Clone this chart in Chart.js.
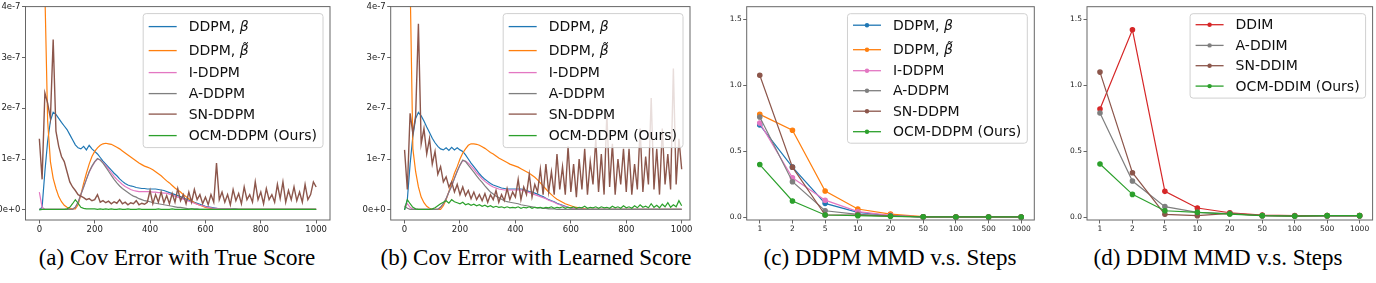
<!DOCTYPE html>
<html>
<head>
<meta charset="utf-8">
<script src="https://cdn.jsdelivr.net/npm/chart.js@4.4.0/dist/chart.umd.min.js"></script>
<style>
  body { margin: 0; width: 1376px; height: 283px; background: #fff; position: relative; overflow: hidden; }
  canvas { position: absolute; top: 0; }
  .cap { position: absolute; top: 244px; font-family: "Liberation Serif", serif; font-size: 23px; line-height: 28px; white-space: nowrap; transform: translateX(-50%); color: #000; }
</style>
</head>
<body>
<canvas id="covTrue" width="340" height="240" style="left:0px"></canvas>
<canvas id="covLearned" width="350" height="240" style="left:350px"></canvas>
<canvas id="mmdDdpm" width="340" height="240" style="left:700px"></canvas>
<canvas id="mmdDdim" width="336" height="240" style="left:1040px"></canvas>
<div class="cap" style="left:177px">(a) Cov Error with True Score</div>
<div class="cap" style="left:536px">(b) Cov Error with Learned Score</div>
<div class="cap" style="left:890px">(c) DDPM MMD v.s. Steps</div>
<div class="cap" style="left:1218px">(d) DDIM MMD v.s. Steps</div>
<script>
// ---- data: covariance error (values in units of 1e-7) ----
const covSteps = [
  0, 10, 20, 30, 40, 50, 60, 70, 80, 90,
  100, 110, 120, 130, 140, 150, 160, 170, 180, 190,
  200, 210, 220, 230, 240, 250, 260, 270, 280, 290,
  300, 310, 320, 330, 340, 350, 360, 370, 380, 390,
  400, 410, 420, 430, 440, 450, 460, 470, 480, 490,
  500, 510, 520, 530, 540, 550, 560, 570, 580, 590,
  600, 610, 620, 630, 640, 650, 660, 670, 680, 690,
  700, 710, 720, 730, 740, 750, 760, 770, 780, 790,
  800, 810, 820, 830, 840, 850, 860, 870, 880, 890,
  900, 910, 920, 930, 940, 950, 960, 970, 980, 990,
  1000,
];
const covXTicks = [0, 200, 400, 600, 800, 1000];
const covYTicks = [0, 1, 2, 3, 4];

// (a) true score
const trueBeta = [
  0, 0.05, 0.75, 1.35, 1.75, 1.92, 1.88, 1.8, 1.72, 1.65,
  1.58, 1.48, 1.38, 1.28, 1.22, 1.2, 1.25, 1.18, 1.27, 1.2,
  1.15, 1.1, 1.03, 0.96, 0.9, 0.84, 0.78, 0.72, 0.67, 0.61,
  0.56, 0.52, 0.49, 0.47, 0.46, 0.44, 0.43, 0.42, 0.42, 0.41,
  0.41, 0.41, 0.41, 0.4, 0.39, 0.38, 0.36, 0.34, 0.32, 0.3,
  0.28, 0.26, 0.23, 0.21, 0.19, 0.17, 0.15, 0.13, 0.11, 0.09,
  0.07, 0.06, 0.05, 0.04, 0.03, 0.02, 0.02, 0.02, 0.02, 0.02,
  0.02, 0.02, 0.01, 0.01, 0.01, 0.01, 0.01, 0.01, 0.01, 0.01,
  0.01, 0.01, 0.01, 0.01, 0.01, 0.01, 0.01, 0.01, 0.01, 0.01,
  0.01, 0.01, 0.01, 0.01, 0.01, 0.01, 0.01, 0.01, 0.01, 0.01,
  0.01,
];
const trueBetaTilde = [
  9, 7, 4.3, 1.75, 0.95, 0.62, 0.42, 0.26, 0.16, 0.09,
  0.05, 0.03, 0.02, 0.02, 0.1, 0.3, 0.52, 0.72, 0.9, 1.05,
  1.15, 1.22, 1.27, 1.3, 1.31, 1.3, 1.29, 1.26, 1.23, 1.2,
  1.16, 1.12, 1.08, 1.04, 1.0, 0.96, 0.92, 0.89, 0.86, 0.84,
  0.82, 0.79, 0.75, 0.71, 0.67, 0.62, 0.57, 0.53, 0.48, 0.43,
  0.39, 0.35, 0.3, 0.26, 0.22, 0.18, 0.14, 0.11, 0.09, 0.07,
  0.05, 0.04, 0.03, 0.02, 0.02, 0.01, 0.01, 0.01, 0.01, 0.01,
  0.01, 0.01, 0.01, 0.01, 0.01, 0.01, 0.01, 0.01, 0.01, 0.01,
  0.01, 0.01, 0.01, 0.01, 0.01, 0.01, 0.01, 0.01, 0.01, 0.01,
  0.01, 0.01, 0.01, 0.01, 0.01, 0.01, 0.01, 0.01, 0.01, 0.01,
  0.01,
];
const trueIddpm = [
  0.35, 0.05, 0.01, 0.01, 0.01, 0.01, 0.01, 0.01, 0.01, 0.01,
  0.01, 0.01, 0.01, 0.05, 0.15, 0.3, 0.45, 0.6, 0.74, 0.85,
  0.94, 1.0, 0.98, 0.93, 0.87, 0.8, 0.73, 0.66, 0.6, 0.55,
  0.5, 0.46, 0.43, 0.4, 0.38, 0.37, 0.36, 0.36, 0.36, 0.36,
  0.36, 0.35, 0.35, 0.34, 0.34, 0.33, 0.33, 0.31, 0.29, 0.27,
  0.25, 0.23, 0.21, 0.19, 0.17, 0.15, 0.13, 0.11, 0.09, 0.08,
  0.06, 0.05, 0.04, 0.03, 0.03, 0.02, 0.02, 0.02, 0.02, 0.02,
  0.01, 0.01, 0.01, 0.01, 0.01, 0.01, 0.01, 0.01, 0.01, 0.01,
  0.01, 0.01, 0.01, 0.01, 0.01, 0.01, 0.01, 0.01, 0.01, 0.01,
  0.01, 0.01, 0.01, 0.01, 0.01, 0.01, 0.01, 0.01, 0.01, 0.01,
  0.01,
];
const trueAddpm = [
  0.02, 0.01, 0.01, 0.01, 0.01, 0.01, 0.01, 0.01, 0.01, 0.01,
  0.01, 0.01, 0.01, 0.05, 0.15, 0.3, 0.45, 0.6, 0.75, 0.86,
  0.95, 1.01, 0.98, 0.92, 0.84, 0.76, 0.68, 0.6, 0.53, 0.47,
  0.42, 0.38, 0.34, 0.3, 0.27, 0.25, 0.22, 0.2, 0.18, 0.17,
  0.16, 0.14, 0.13, 0.12, 0.11, 0.1, 0.09, 0.08, 0.07, 0.06,
  0.05, 0.05, 0.04, 0.03, 0.02, 0.02, 0.02, 0.02, 0.01, 0.01,
  0.01, 0.01, 0.01, 0.01, 0.01, 0.01, 0.01, 0.01, 0.01, 0.01,
  0.01, 0.01, 0.01, 0.01, 0.01, 0.01, 0.01, 0.01, 0.01, 0.01,
  0.01, 0.01, 0.01, 0.01, 0.01, 0.01, 0.01, 0.01, 0.01, 0.01,
  0.01, 0.01, 0.01, 0.01, 0.01, 0.01, 0.01, 0.01, 0.01, 0.01,
  0.01,
];
const trueSnddpm = [
  1.4, 0.6, 2.3, 2.1, 1.8, 3.35, 1.55, 1.25, 1.05, 0.95,
  0.75, 0.55, 0.45, 0.38, 0.3, 0.27, 0.24, 0.2, 0.22, 0.18,
  0.2, 0.3, 0.15, 0.18, 0.14, 0.17, 0.12, 0.16, 0.13, 0.2,
  0.12, 0.15, 0.1, 0.14, 0.12, 0.18, 0.1, 0.13, 0.11, 0.15,
  0.38, 0.12, 0.3, 0.15, 0.35, 0.14, 0.28, 0.12, 0.32, 0.15,
  0.42, 0.18, 0.3, 0.12, 0.35, 0.15, 0.4, 0.2, 0.3, 0.12,
  0.25, 0.1, 0.3, 0.15, 0.92, 0.2, 0.35, 0.15, 0.3, 0.1,
  0.4, 0.18, 0.32, 0.12, 0.45, 0.2, 0.3, 0.15, 0.55, 0.2,
  0.35, 0.12, 0.42, 0.2, 0.3, 0.15, 0.5, 0.22, 0.55, 0.15,
  0.38, 0.2, 0.45, 0.18, 0.35, 0.15, 0.5, 0.2, 0.3, 0.55,
  0.45,
];
const trueOcm = [
  0, 0.01, 0.01, 0.01, 0.01, 0.01, 0.01, 0.01, 0.01, 0.01,
  0.02, 0.05, 0.12, 0.2, 0.13, 0.05, 0.03, 0.02, 0.02, 0.02,
  0.02, 0.01, 0.02, 0.01, 0.02, 0.01, 0.02, 0.01, 0.01, 0.02,
  0.01, 0.01, 0.02, 0.01, 0.01, 0.01, 0.02, 0.01, 0.01, 0.01,
  0.01, 0.01, 0.01, 0.02, 0.01, 0.01, 0.01, 0.01, 0.02, 0.01,
  0.01, 0.01, 0.01, 0.01, 0.01, 0.02, 0.01, 0.01, 0.01, 0.01,
  0.01, 0.01, 0.01, 0.01, 0.01, 0.01, 0.01, 0.01, 0.01, 0.01,
  0.01, 0.01, 0.01, 0.01, 0.01, 0.01, 0.01, 0.01, 0.01, 0.01,
  0.01, 0.01, 0.01, 0.01, 0.01, 0.01, 0.01, 0.01, 0.01, 0.01,
  0.01, 0.01, 0.01, 0.01, 0.01, 0.01, 0.01, 0.01, 0.01, 0.01,
  0.01,
];

// (b) learned score
const learnedBeta = [
  0, 0.2, 0.9, 1.45, 1.8, 1.92, 1.85, 1.75, 1.63, 1.52,
  1.41, 1.32, 1.25, 1.2, 1.18, 1.22, 1.17, 1.23, 1.18, 1.22,
  1.18, 1.15, 1.08, 1.0, 0.92, 0.85, 0.78, 0.71, 0.65, 0.6,
  0.56, 0.52, 0.49, 0.47, 0.45, 0.43, 0.42, 0.41, 0.41, 0.41,
  0.41, 0.41, 0.41, 0.4, 0.38, 0.36, 0.35, 0.33, 0.31, 0.28,
  0.26, 0.23, 0.2, 0.18, 0.16, 0.13, 0.11, 0.09, 0.07, 0.05,
  0.04, 0.03, 0.02, 0.02, 0.02, 0.01, 0.01, 0.01, 0.01, 0.01,
  0.01, 0.01, 0.01, 0.01, 0.01, 0.01, 0.01, 0.01, 0.01, 0.01,
  0.01, 0.01, 0.01, 0.01, 0.01, 0.01, 0.01, 0.01, 0.01, 0.01,
  0.01, 0.01, 0.01, 0.01, 0.01, 0.01, 0.01, 0.01, 0.01, 0.01,
  0.01,
];
const learnedBetaTilde = [
  9, 7, 4.5, 1.2, 0.75, 0.45, 0.25, 0.14, 0.07, 0.03,
  0.01, 0.01, 0.01, 0.01, 0.08, 0.2, 0.36, 0.55, 0.72, 0.85,
  1.0, 1.12, 1.2, 1.27, 1.3, 1.3, 1.29, 1.27, 1.24, 1.21,
  1.17, 1.13, 1.1, 1.06, 1.02, 0.99, 0.96, 0.93, 0.9, 0.88,
  0.86, 0.84, 0.81, 0.78, 0.75, 0.72, 0.68, 0.64, 0.59, 0.53,
  0.47, 0.41, 0.35, 0.3, 0.25, 0.21, 0.18, 0.15, 0.12, 0.1,
  0.08, 0.06, 0.05, 0.04, 0.03, 0.02, 0.01, 0.01, 0.01, 0.01,
  0.01, 0.01, 0.01, 0.01, 0.01, 0.01, 0.01, 0.01, 0.01, 0.01,
  0.01, 0.01, 0.01, 0.01, 0.01, 0.01, 0.01, 0.01, 0.01, 0.01,
  0.01, 0.01, 0.01, 0.01, 0.01, 0.01, 0.01, 0.01, 0.01, 0.01,
  0.01,
];
const learnedIddpm = [
  0.05, 0.12, 0.05, 0.01, 0.01, 0.01, 0.01, 0.01, 0.01, 0.01,
  0.01, 0.01, 0.01, 0.05, 0.12, 0.22, 0.35, 0.47, 0.62, 0.76,
  0.88, 0.97, 0.96, 0.92, 0.86, 0.8, 0.73, 0.67, 0.61, 0.56,
  0.52, 0.48, 0.45, 0.43, 0.41, 0.4, 0.39, 0.39, 0.39, 0.39,
  0.39, 0.39, 0.39, 0.38, 0.36, 0.34, 0.32, 0.3, 0.28, 0.26,
  0.24, 0.22, 0.19, 0.17, 0.15, 0.12, 0.1, 0.08, 0.06, 0.05,
  0.04, 0.03, 0.02, 0.02, 0.02, 0.01, 0.01, 0.01, 0.01, 0.01,
  0.01, 0.01, 0.01, 0.01, 0.01, 0.01, 0.01, 0.01, 0.01, 0.01,
  0.01, 0.01, 0.01, 0.01, 0.01, 0.01, 0.01, 0.01, 0.01, 0.01,
  0.01, 0.01, 0.01, 0.01, 0.01, 0.01, 0.01, 0.01, 0.01, 0.01,
  0.01,
];
const learnedAddpm = [
  0.08, 0.03, 0.01, 0.01, 0.01, 0.01, 0.01, 0.01, 0.01, 0.01,
  0.01, 0.01, 0.01, 0.05, 0.12, 0.22, 0.35, 0.47, 0.62, 0.76,
  0.88, 0.98, 0.95, 0.88, 0.81, 0.74, 0.67, 0.6, 0.54, 0.47,
  0.41, 0.35, 0.31, 0.27, 0.24, 0.21, 0.18, 0.16, 0.15, 0.14,
  0.13, 0.12, 0.1, 0.09, 0.08, 0.07, 0.06, 0.05, 0.04, 0.04,
  0.03, 0.03, 0.02, 0.02, 0.02, 0.01, 0.01, 0.01, 0.01, 0.01,
  0.01, 0.01, 0.01, 0.01, 0.01, 0.01, 0.01, 0.01, 0.01, 0.01,
  0.01, 0.01, 0.01, 0.01, 0.01, 0.01, 0.01, 0.01, 0.01, 0.01,
  0.01, 0.01, 0.01, 0.01, 0.01, 0.01, 0.01, 0.01, 0.01, 0.01,
  0.01, 0.01, 0.01, 0.01, 0.01, 0.01, 0.01, 0.01, 0.01, 0.01,
  0.01,
];
const learnedSnddpm = [
  1.18, 0.4, 1.9, 1.5, 1.85, 3.66, 1.3, 1.6, 1.1, 1.4,
  0.9, 1.15, 0.7, 0.85, 0.55, 0.65, 0.45, 0.55, 0.35, 0.5,
  0.3, 0.45, 0.28, 0.38, 0.22, 0.35, 0.2, 0.3, 0.18, 0.32,
  0.15, 0.3, 0.2, 0.38, 0.15, 0.3, 0.18, 0.42, 0.2, 0.35,
  0.25, 0.6, 0.2, 0.45, 0.3, 0.7, 0.25, 0.5, 0.35, 0.8,
  0.3, 0.9, 0.35, 0.75, 0.3, 1.1, 0.4, 0.85, 0.3, 1.25,
  0.35, 0.9, 0.25, 1.0, 0.4, 1.2, 0.3, 0.95, 0.5, 1.4,
  0.35, 1.1, 0.3, 1.9, 0.45, 1.3, 0.3, 1.0, 0.5, 1.2,
  0.35, 1.2, 0.3, 0.9, 0.4, 1.6, 0.35, 1.05, 0.5, 2.2,
  0.4, 1.2, 0.3, 1.6, 0.5, 1.1, 0.4, 2.78, 0.5, 1.4,
  0.8,
];
const learnedOcm = [
  0, 0.2, 0.12, 0.05, 0.02, 0.01, 0.01, 0.01, 0.01, 0.01,
  0.02, 0.04, 0.08, 0.12, 0.15, 0.18, 0.13, 0.2, 0.16, 0.14,
  0.12, 0.15, 0.1, 0.12, 0.09, 0.11, 0.08, 0.1, 0.07, 0.09,
  0.06, 0.08, 0.05, 0.07, 0.05, 0.06, 0.04, 0.06, 0.04, 0.05,
  0.04, 0.06, 0.03, 0.05, 0.04, 0.06, 0.03, 0.05, 0.04, 0.05,
  0.03, 0.05, 0.04, 0.06, 0.03, 0.05, 0.04, 0.06, 0.03, 0.05,
  0.04, 0.06, 0.03, 0.05, 0.04, 0.07, 0.03, 0.05, 0.04, 0.06,
  0.03, 0.06, 0.04, 0.05, 0.03, 0.07, 0.04, 0.06, 0.03, 0.08,
  0.04, 0.06, 0.03, 0.08, 0.04, 0.1, 0.05, 0.07, 0.04, 0.12,
  0.05, 0.09, 0.04, 0.11, 0.06, 0.14, 0.05, 0.1, 0.06, 0.18,
  0.08,
];

// ---- data: MMD vs sampling steps ----
const stepLabels = ["1", "2", "5", "10", "20", "50", "100", "500", "1000"];
const mmdYTicks = [0, 0.5, 1, 1.5];

const ddpmBeta = [0.70, 0.38, 0.106, 0.038, 0.012, 0.004, 0.003, 0.003, 0.003];
const ddpmBetaTilde = [0.78, 0.66, 0.2, 0.063, 0.025, 0.005, 0.004, 0.003, 0.003];
const iDdpm = [0.715, 0.30, 0.13, 0.043, 0.015, 0.004, 0.003, 0.003, 0.003];
const aDdpm = [0.76, 0.27, 0.05, 0.023, 0.012, 0.004, 0.003, 0.003, 0.003];
const snDdpm = [1.076, 0.38, 0.018, 0.018, 0.01, 0.004, 0.003, 0.003, 0.003];
const ocmDdpm = [0.40, 0.124, 0.018, 0.013, 0.008, 0.004, 0.003, 0.003, 0.003];

const ddim = [0.82, 1.42, 0.197, 0.071, 0.035, 0.018, 0.013, 0.013, 0.013];
const aDdim = [0.79, 0.275, 0.081, 0.038, 0.028, 0.013, 0.01, 0.01, 0.01];
const snDdim = [1.10, 0.338, 0.023, 0.013, 0.03, 0.013, 0.01, 0.013, 0.013];
const ocmDdim = [0.404, 0.174, 0.05, 0.038, 0.025, 0.013, 0.01, 0.013, 0.013];

const C = {
  blue: "#1f77b4", orange: "#ff7f0e", green: "#2ca02c", red: "#d62728",
  brown: "#8c564b", pink: "#e377c2", gray: "#7f7f7f",
};

const AXIS = "#666";
const TXT = "#222";

// frame around the plot + matplotlib-style legend in the upper right
const panelDecor = {
  id: "panelDecor",
  afterDatasetsDraw(chart, args, opts) {
    const { ctx, chartArea: a } = chart;
    ctx.save();
    ctx.strokeStyle = AXIS;
    ctx.lineWidth = 1;
    ctx.strokeRect(a.left, a.top, a.right - a.left, a.bottom - a.top);

    const fs = 14;
    const normal = fs + 'px "DejaVu Sans"';
    const italic = "italic " + fs + 'px "DejaVu Sans"';
    const items = chart.data.datasets.map((ds) => {
      const parts = ds.label.split(/(β̃|β)/).filter((p) => p);
      return { parts, color: ds.borderColor, marker: ds.pointRadius > 0 };
    });
    let maxW = 0;
    items.forEach((it) => {
      let w = 0;
      it.parts.forEach((p) => {
        ctx.font = p.startsWith("β") ? italic : normal;
        w += ctx.measureText(p).width;
      });
      maxW = Math.max(maxW, w);
    });
    const boxW = 5.5 + 40 + maxW + 6;
    const right = a.right - 7;
    const left = right - boxW;
    const top = a.top + 7;

    ctx.fillStyle = "rgba(255,255,255,0.8)";
    ctx.strokeStyle = "#d0d0d0";
    ctx.beginPath();
    ctx.roundRect(left, top, boxW, opts.height, 3);
    ctx.fill();
    ctx.stroke();

    items.forEach((it, i) => {
      const y = top + opts.rows[i];
      ctx.strokeStyle = it.color;
      ctx.lineWidth = 1.3;
      ctx.beginPath();
      ctx.moveTo(left + 5.5, y);
      ctx.lineTo(left + 33.5, y);
      ctx.stroke();
      if (it.marker) {
        ctx.fillStyle = it.color;
        ctx.beginPath();
        ctx.arc(left + 19.5, y, 2.2, 0, Math.PI * 2);
        ctx.fill();
      }
      let x = left + 45.5;
      ctx.fillStyle = "#111";
      ctx.textBaseline = "middle";
      it.parts.forEach((p) => {
        ctx.font = p.startsWith("β") ? italic : normal;
        ctx.fillText(p, x, y + 1);
        x += ctx.measureText(p).width;
      });
    });
    ctx.restore();
  },
};

function covDatasets(beta, betaTilde, iddpm, addpm, snddpm, ocm) {
  const list = [
    ["DDPM, β", C.blue, beta],
    ["DDPM, β̃", C.orange, betaTilde],
    ["I-DDPM", C.pink, iddpm],
    ["A-DDPM", C.gray, addpm],
    ["SN-DDPM", C.brown, snddpm],
    ["OCM-DDPM (Ours)", C.green, ocm],
  ];
  return list.map(([label, color, vals], i) => ({
    label: label,
    borderColor: color,
    backgroundColor: color,
    borderWidth: color === C.brown ? 1.4 : 1.2,
    pointRadius: 0,
    data: covSteps.map((s, k) => ({ x: s, y: vals[k] })),
    order: list.length - i,
  }));
}

function mmdDatasets(list) {
  return list.map(([label, color, vals], i) => ({
    label: label,
    borderColor: color,
    backgroundColor: color,
    borderWidth: 1.2,
    pointRadius: 2.2,
    pointHoverRadius: 2.2,
    data: vals.map((v, k) => ({ x: k, y: v })),
    order: list.length - i,
  }));
}

function axisCommon(fontSize) {
  return {
    grid: { drawOnChartArea: false, drawTicks: true, tickLength: 3.5, color: AXIS },
    border: { display: false },
    ticks: { font: { family: "DejaVu Sans", size: fontSize }, color: TXT, padding: 1.5, maxRotation: 0, autoSkip: false },
  };
}

function covConfig(datasets, xMax, yW, padRight) {
  const x = axisCommon(8.5);
  const y = axisCommon(8.5);
  return {
    type: "line",
    data: { datasets: datasets },
    plugins: [panelDecor],
    options: {
      responsive: false,
      animation: false,
      devicePixelRatio: 1,
      layout: { padding: { top: 6, right: padRight, left: 0, bottom: 0 } },
      plugins: {
        legend: { display: false },
        tooltip: { enabled: false },
        panelDecor: { rows: [13, 37, 59, 80, 100.5, 122], height: 134 },
      },
      scales: {
        x: Object.assign(x, {
          type: "linear", min: -50, max: xMax,
          afterBuildTicks: (s) => { s.ticks = covXTicks.map((v) => ({ value: v })); },
          afterFit: (s) => { s.height = 20; },
          ticks: Object.assign(x.ticks, { callback: (v) => String(v) }),
        }),
        y: Object.assign(y, {
          type: "linear", min: -0.2, max: 4,
          afterBuildTicks: (s) => { s.ticks = covYTicks.map((v) => ({ value: v })); },
          afterFit: (s) => { s.width = yW; },
          ticks: Object.assign(y.ticks, { callback: (v) => (v === 0 ? "0e+0" : v + "e-7") }),
        }),
      },
    },
  };
}

function mmdConfig(datasets, yW, padRight, rows, height) {
  const x = axisCommon(7.5);
  const y = axisCommon(7.5);
  return {
    type: "line",
    data: { datasets: datasets },
    plugins: [panelDecor],
    options: {
      responsive: false,
      animation: false,
      devicePixelRatio: 1,
      layout: { padding: { top: 6.7, right: padRight, left: 0, bottom: 0 } },
      plugins: {
        legend: { display: false },
        tooltip: { enabled: false },
        panelDecor: { rows: rows, height: height },
      },
      scales: {
        x: Object.assign(x, {
          type: "linear", min: -0.4, max: 8.4,
          afterBuildTicks: (s) => { s.ticks = stepLabels.map((l, i) => ({ value: i })); },
          afterFit: (s) => { s.height = 20; },
          ticks: Object.assign(x.ticks, { callback: (v) => stepLabels[v] }),
        }),
        y: Object.assign(y, {
          type: "linear", min: -0.02, max: 1.595,
          afterBuildTicks: (s) => { s.ticks = mmdYTicks.map((v) => ({ value: v })); },
          afterFit: (s) => { s.width = yW; },
          ticks: Object.assign(y.ticks, { callback: (v) => v.toFixed(1) }),
        }),
      },
    },
  };
}

new Chart(document.getElementById("covTrue"),
  covConfig(covDatasets(trueBeta, trueBetaTilde, trueIddpm, trueAddpm, trueSnddpm, trueOcm), 1050, 25.5, 10));

new Chart(document.getElementById("covLearned"),
  covConfig(covDatasets(learnedBeta, learnedBetaTilde, learnedIddpm, learnedAddpm, learnedSnddpm, learnedOcm), 1030, 40.7, 10));

new Chart(document.getElementById("mmdDdpm"),
  mmdConfig(mmdDatasets([
    ["DDPM, β", C.blue, ddpmBeta],
    ["DDPM, β̃", C.orange, ddpmBetaTilde],
    ["I-DDPM", C.pink, iDdpm],
    ["A-DDPM", C.gray, aDdpm],
    ["SN-DDPM", C.brown, snDdpm],
    ["OCM-DDPM (Ours)", C.green, ocmDdpm],
  ]), 46.7, 5.7, [11.5, 36, 57, 77, 97.5, 118], 129.5));

new Chart(document.getElementById("mmdDdim"),
  mmdConfig(mmdDatasets([
    ["DDIM", C.red, ddim],
    ["A-DDIM", C.gray, aDdim],
    ["SN-DDIM", C.brown, snDdim],
    ["OCM-DDIM (Ours)", C.green, ocmDdim],
  ]), 47, 1, [11, 31.7, 52, 72.4], 84.4));
</script>
</body>
</html>
